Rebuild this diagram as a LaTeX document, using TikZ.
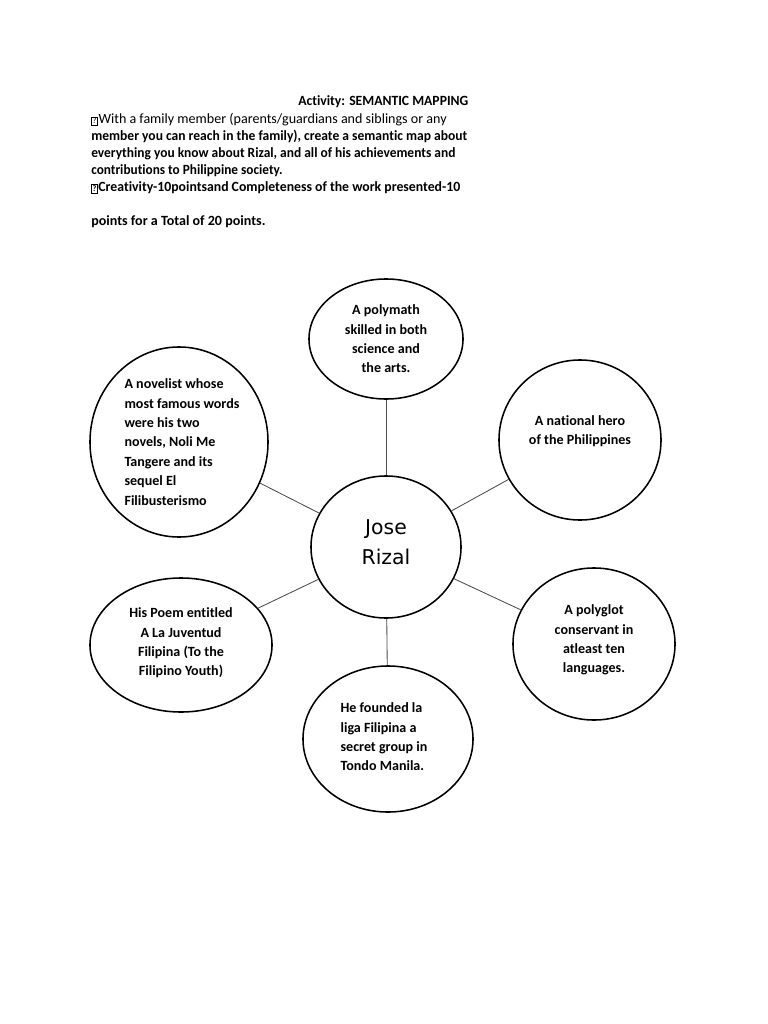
\documentclass[tikz,border=0pt]{standalone}
\usepackage{fontspec}
\setmainfont[Ligatures=NoCommon]{Carlito}
\newfontfamily\hubfont{DejaVu Sans}
\usetikzlibrary{shapes.geometric}
\newcommand{\nochar}{\raisebox{0.05ex}{\fbox{\fontsize{6}{6}\selectfont ?}}\hspace{0.5pt}}
\newcommand{\fitline}[2]{\resizebox{#1}{\height}{#2}}
\setlength{\fboxsep}{0.6pt}
\setlength{\fboxrule}{0.35pt}

\begin{document}
\begin{tikzpicture}[x=0.025cm,y=-0.025cm,
  headline/.style={anchor=base west,inner sep=0pt,font=\fontsize{10}{12}\selectfont},
  headbold/.style={headline,font=\fontsize{10}{12}\selectfont\bfseries},
  bubble/.style={ellipse,draw=black,line width=1.1pt,fill=white,inner sep=0pt},
  note/.style={inner sep=0pt,font=\fontsize{10}{13.8}\selectfont\bfseries},
  link/.style={draw=black!70,line width=0.6pt}
]
\useasboundingbox[fill=white] (0,0) rectangle (768,1024);
% heading
\node[headbold] (title) at (298,106) {\fitline{4.25cm}{Activity: SEMANTIC MAPPING}};
\node[headline] (l1) at (91,124) {\nochar With a family member (parents/guardians and siblings or any};
\node[headbold] (l2) at (91,141) {\fitline{9.4cm}{member you can reach in the family), create a semantic map about}};
\node[headbold] (l3) at (91,158) {\fitline{9.1cm}{everything you know about Rizal, and all of his achievements and}};
\node[headbold] (l4) at (91,175) {\fitline{4.78cm}{contributions to Philippine society.}};
\node[headbold] (l5) at (91,192) {\fitline{9.22cm}{\nochar Creativity-10pointsand Completeness of the work presented-10}};
\node[headbold] (l6) at (91,226) {points for a Total of 20 points.};
% bubbles
\node[bubble,minimum width=3.75cm,minimum height=3.55cm] (rizal) at (386,547) {};
\node[bubble,minimum width=3.85cm,minimum height=3cm] (poly) at (386,339) {};
\node[bubble,minimum width=4.45cm,minimum height=4.75cm] (novel) at (179,442) {};
\node[bubble,minimum width=4.05cm,minimum height=4cm] (hero) at (580,440) {};
\node[bubble,minimum width=4.05cm,minimum height=3.8cm] (glot) at (594,644) {};
\node[bubble,minimum width=4.25cm,minimum height=3.65cm] (liga) at (388,739) {};
\node[bubble,minimum width=4.55cm,minimum height=3.35cm] (poem) at (181,645) {};
% texts
\node[note,font=\hubfont\fontsize{14.5}{21.5}\selectfont,align=center] (rizaltext) at (386,542) {Jose\\Rizal};
\node[note,align=center] (polytext) at (386,339) {A polymath\\skilled in both\\science and\\the arts.};
\node[note,align=left] (noveltext) at (182,442) {A novelist whose\\most famous words\\were his two\\novels, Noli Me\\Tangere and its\\sequel El\\Filibusterismo};
\node[note,align=center] (herotext) at (580,431) {A national hero\\of the Philippines};
\node[note,align=center] (glottext) at (594,640) {A polyglot\\conservant in\\atleast ten\\languages.};
\node[note,align=left] (ligatext) at (384,737) {He founded la\\liga Filipina a\\secret group in\\Tondo Manila.};
\node[note,align=center] (poemtext) at (181,643) {His Poem entitled\\A La Juventud\\Filipina (To the\\Filipino Youth)};
% links
\draw[link] (rizal) -- (poly);
\draw[link] (rizal) -- (novel);
\draw[link] (rizal) -- (hero);
\draw[link] (rizal) -- (glot);
\draw[link] (rizal) -- (liga);
\draw[link] (rizal) -- (poem);
\end{tikzpicture}
\end{document}
